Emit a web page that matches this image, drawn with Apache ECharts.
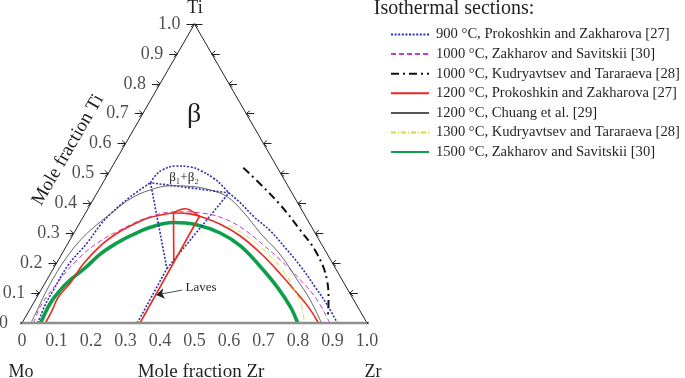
<!DOCTYPE html>
<html>
<head>
<meta charset="utf-8">
<script src="https://cdn.jsdelivr.net/npm/echarts@6/dist/echarts.min.js"></script>
<style>
html, body { margin: 0; padding: 0; background: #fff; }
#chart { width: 685px; height: 378px; }
</style>
</head>
<body>
<div id="chart"></div>
<script>
// all curve points are [Zr, Ti] mole fractions, Mo = 1 - Zr - Ti
var zrTicks = [0, 0.1, 0.2, 0.3, 0.4, 0.5, 0.6, 0.7, 0.8, 0.9, 1];
var zrTickLabels = ['0', '0.1', '0.2', '0.3', '0.4', '0.5', '0.6', '0.7', '0.8', '0.9', '1.0'];
var tiTicks = [0, 0.1, 0.2, 0.3, 0.4, 0.5, 0.6, 0.7, 0.8, 0.9, 1];
var tiTickLabels = ['0', '0.1', '0.2', '0.3', '0.4', '0.5', '0.6', '0.7', '0.8', '0.9', '1.0'];

var names = [
    '900 °C, Prokoshkin and Zakharova [27]',
    '1000 °C, Zakharov and Savitskii [30]',
    '1000 °C, Kudryavtsev and Tararaeva [28]',
    '1200 °C, Prokoshkin and Zakharova [27]',
    '1200 °C, Chuang et al. [29]',
    '1300 °C, Kudryavtsev and Tararaeva [28]',
    '1500 °C, Zakharov and Savitskii [30]'
];

// 900 C
var t900Left = [[0.046, 0], [0.037, 0.060], [0.036, 0.110], [0.037, 0.194], [0.055, 0.268], [0.063, 0.328], [0.074, 0.365], [0.103, 0.422], [0.138, 0.469]];
var t900Dome = [[0.138, 0.469], [0.140, 0.492], [0.151, 0.512], [0.182, 0.525], [0.227, 0.522], [0.262, 0.510], [0.312, 0.485], [0.351, 0.459], [0.382, 0.435]];
var t900Right = [[0.382, 0.435], [0.432, 0.402], [0.491, 0.358], [0.566, 0.308], [0.638, 0.251], [0.711, 0.191], [0.790, 0.120], [0.855, 0.060], [0.914, 0]];
var t900Tie = [[0.334, 0], [0.329, 0.182], [0.138, 0.469], [0.382, 0.435], [0.329, 0.182]];
// 1000 C
var t1000Zak = [[0.034, 0], [0.026, 0.055], [0.035, 0.133], [0.054, 0.211], [0.084, 0.267], [0.129, 0.311], [0.194, 0.356], [0.263, 0.372], [0.343, 0.367], [0.422, 0.345], [0.499, 0.306], [0.569, 0.261], [0.643, 0.211], [0.735, 0.144], [0.817, 0.077], [0.892, 0]];
var t1000Kud = [[0.382, 0.519], [0.458, 0.465], [0.551, 0.395], [0.651, 0.311], [0.738, 0.233], [0.812, 0.144], [0.850, 0.077], [0.878, 0.017]];
// 1200 C
var t1200Pro = [[0.068, 0], [0.066, 0.044], [0.062, 0.087], [0.073, 0.134], [0.079, 0.197], [0.098, 0.258], [0.126, 0.301], [0.152, 0.325], [0.188, 0.350], [0.228, 0.363], [0.260, 0.368], [0.305, 0.365], [0.339, 0.356], [0.410, 0.330], [0.487, 0.291], [0.574, 0.234], [0.667, 0.164], [0.763, 0.087], [0.814, 0.044], [0.859, 0]];
var t1200Laves = [[0.342, 0], [0.336, 0.357]];
var t1200Inner = [[0.255, 0.368], [0.337, 0.206]];
var t1200Cap = [[0.255, 0.368], [0.267, 0.378], [0.283, 0.382], [0.303, 0.375], [0.336, 0.357]];
var t1200Chu = [[0.026, 0], [0.022, 0.050], [0.017, 0.110], [0.016, 0.161], [0.018, 0.204], [0.026, 0.258], [0.039, 0.301], [0.058, 0.338], [0.074, 0.365], [0.106, 0.415], [0.149, 0.445], [0.201, 0.459], [0.259, 0.457], [0.323, 0.445], [0.384, 0.422], [0.456, 0.371], [0.540, 0.301], [0.635, 0.228], [0.726, 0.144], [0.797, 0.077], [0.868, 0]];
// 1300 C
var t1300 = [[0.436, 0.325], [0.480, 0.305], [0.564, 0.254], [0.655, 0.187], [0.726, 0.120], [0.784, 0.054], [0.818, 0]];
// 1500 C
var t1500 = [[0.054, 0], [0.049, 0.067], [0.056, 0.110], [0.068, 0.144], [0.091, 0.184], [0.112, 0.231], [0.138, 0.264], [0.168, 0.291], [0.212, 0.320], [0.270, 0.336], [0.344, 0.328], [0.424, 0.301], [0.504, 0.258], [0.596, 0.189], [0.680, 0.120], [0.751, 0.054], [0.799, 0]];

var lavesArrow = [[0.409, 0.110], [0.342, 0.094]];

var H = Math.sqrt(3) / 2;
var PX = 1 / 345;
var FONT = "'Liberation Serif', 'Times New Roman', serif";
var INK = '#231f20';

function toXY(p) {
    return [p[0] + p[1] / 2, p[1] * H];
}
function seg(p, a, b) {
    return {coords: [[p[0] + a[0] * PX, p[1] + a[1] * PX], [p[0] + b[0] * PX, p[1] + b[1] * PX]]};
}

var styles = [
    {color: '#2f2fb0', width: 1.6, type: [2, 1.6]},
    {color: '#c23cc4', width: 1, type: [5, 3]},
    {color: '#111', width: 2, type: [8, 4, 2, 4]},
    {color: '#ea2a20', width: 1.6, type: 'solid'},
    {color: '#555', width: 0.9, type: 'solid'},
    {color: '#d3dc3a', width: 1, type: [5, 2, 1, 2]},
    {color: '#0d9e4a', width: 3.6, type: 'solid'}
];

function curve(k, pts, smooth, z) {
    return {
        type: 'line', name: names[k], data: pts.map(toXY), symbol: 'none',
        smooth: smooth, lineStyle: styles[k], itemStyle: {color: styles[k].color},
        silent: true, clip: false, z: z || 3
    };
}

var leftTicks = [], rightTicks = [], baseTicks = [];
tiTicks.forEach(function (t) {
    var p = toXY([0, t]);
    leftTicks.push(seg(p, [-8, 0], [0, 0]), seg(p, [-3.5, 3], [0, 0]), seg(p, [-3.5, -3], [0, 0]));
    var q = toXY([1 - t, t]);
    rightTicks.push(seg(q, [0, 0], [8, 0]), seg(q, [0, 0], [3.5, 3]), seg(q, [0, 0], [3.5, -3]));
});
zrTicks.forEach(function (z) {
    var p = toXY([z, 0]);
    baseTicks.push(seg(p, [0, -1.5], [-3.5, -6]), seg(p, [0, -1.5], [3.5, -6]));
});

var series = [
    curve(6, t1500, 0.4, 2),
    curve(0, t900Left, 0.4),
    curve(0, t900Dome, 0.4),
    curve(0, t900Right, 0.4),
    curve(0, t900Tie, false),
    curve(1, t1000Zak, 0.4),
    curve(2, t1000Kud, 0.4),
    curve(3, t1200Pro, 0.4),
    curve(3, t1200Laves, false),
    curve(3, t1200Inner, false),
    curve(3, t1200Cap, 0.4),
    curve(4, t1200Chu, 0.4),
    curve(5, t1300, 0.4),
    {
        // triangle sides
        type: 'line', data: [[0, 0], [0, 1], [1, 0]].map(toXY), symbol: 'none',
        lineStyle: {color: '#222', width: 1}, silent: true, clip: false, z: 4
    },
    {
        type: 'line', data: [[-0.02, 0], [1.02, 0]], symbol: 'none',
        lineStyle: {color: '#8f8f8f', width: 2.5}, silent: true, clip: false, z: 4
    },
    {
        type: 'lines', coordinateSystem: 'cartesian2d', data: leftTicks.concat(rightTicks, baseTicks),
        lineStyle: {color: '#222', width: 1, opacity: 1}, silent: true, z: 5
    },
    {
        type: 'lines', coordinateSystem: 'cartesian2d',
        data: [{coords: lavesArrow.map(toXY)}],
        symbol: ['none', 'arrow'], symbolSize: [5, 8],
        lineStyle: {color: '#222', width: 0.8, opacity: 1}, silent: true, z: 6
    },
    {
        type: 'scatter', symbolSize: 0, silent: true,
        data: tiTicks.map(function (t, i) {
            return {value: toXY([0, t]), label: {formatter: tiTickLabels[i]}};
        }),
        label: {show: true, position: 'left', distance: 14, fontFamily: FONT, fontSize: 18, color: INK}
    },
    {
        type: 'scatter', symbolSize: 0, silent: true,
        data: zrTicks.map(function (z, i) {
            return {value: toXY([z, 0]), label: {formatter: zrTickLabels[i]}};
        }),
        label: {show: true, position: 'bottom', distance: 9, fontFamily: FONT, fontSize: 18, color: INK}
    }
];

function txt(x, y, s, size, extra) {
    var el = {type: 'text', x: x, y: y, z: 10, style: {
        text: s, font: size + 'px ' + FONT, fill: INK,
        textAlign: 'center', textVerticalAlign: 'middle', align: 'center', verticalAlign: 'middle'
    }};
    return Object.assign(el, extra || {});
}

var chart = echarts.init(document.getElementById('chart'), null, {renderer: 'canvas'});
chart.setOption({
    animation: false,
    grid: {left: 22, top: 24, width: 345, height: 299},
    xAxis: {type: 'value', min: 0, max: 1, show: false},
    yAxis: {type: 'value', min: 0, max: H, show: false},
    legend: {
        data: names, orient: 'vertical', left: 385, top: 22,
        itemWidth: 38, itemHeight: 14, itemGap: 4.6, selectedMode: false,
        itemStyle: {opacity: 0},
        textStyle: {fontFamily: FONT, fontSize: 14.6, color: INK, lineHeight: 14, padding: [0, 0, 0, 2]}
    },
    graphic: [
        txt(454, 9, 'Isothermal sections:', 20),
        txt(195, 8, 'Ti', 18),
        txt(21, 372, 'Mo', 18),
        txt(373, 372, 'Zr', 18),
        txt(201, 372, 'Mole fraction Zr', 19),
        txt(68, 150, 'Mole fraction Ti', 19, {rotation: Math.PI / 3}),
        txt(194, 115, 'β', 28),
        txt(184, 178, 'β₁+β₂', 13),
        txt(201, 288, 'Laves', 13)
    ],
    series: series
});
</script>
</body>
</html>
